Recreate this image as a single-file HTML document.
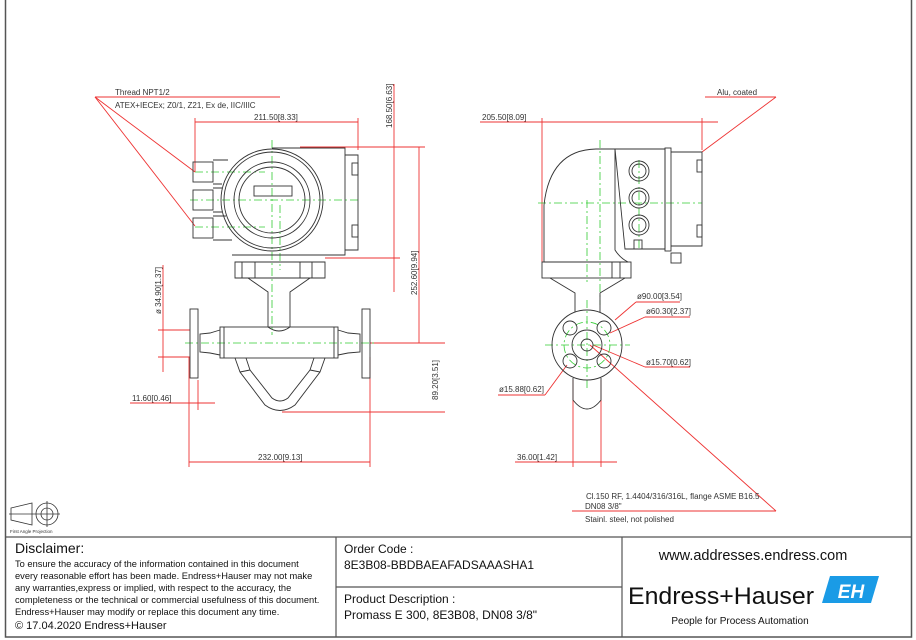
<!DOCTYPE html>
<html><head><meta charset="utf-8"><style>
html,body{margin:0;padding:0;background:#fff}
svg{display:block}
text{font-family:"Liberation Sans",sans-serif}
</style></head><body>
<svg width="916" height="640" viewBox="0 0 916 640" xmlns="http://www.w3.org/2000/svg">
<rect x="5.5" y="-2" width="906" height="639" fill="none" stroke="#555" stroke-width="1.5"/>

<!-- ===== LEFT VIEW ===== -->
<g fill="none" stroke="#e33" stroke-width="0.9">
 <line x1="95" y1="97" x2="280" y2="97"/>
 <line x1="95" y1="97" x2="195" y2="172"/>
 <line x1="95" y1="97" x2="195" y2="226"/>
 <line x1="195" y1="122" x2="358" y2="122"/>
 <line x1="195" y1="118" x2="195" y2="172"/>
 <line x1="358" y1="118" x2="358" y2="150"/>
 <line x1="394" y1="84" x2="394" y2="292"/>
 <line x1="419" y1="147" x2="419" y2="343"/>
 <line x1="300" y1="147" x2="425" y2="147"/>
 <line x1="325" y1="258" x2="400" y2="258"/>
 <line x1="370" y1="343" x2="445" y2="343"/>
 <line x1="282" y1="412" x2="445" y2="412"/>
 <line x1="163" y1="265" x2="163" y2="372"/>
 <line x1="158" y1="330" x2="190" y2="330"/>
 <line x1="158" y1="357" x2="190" y2="357"/>
 <line x1="130" y1="403" x2="215" y2="403"/>
 <line x1="189" y1="357" x2="189" y2="467"/>
 <line x1="198" y1="380" x2="198" y2="410"/>
 <line x1="370" y1="357" x2="370" y2="467"/>
 <line x1="189" y1="462" x2="370" y2="462"/>
</g>
<g fill="#333" font-size="8">
 <text x="115" y="95">Thread NPT1/2</text>
 <text x="115" y="108">ATEX+IECEx; Z0/1, Z21, Ex de, IIC/IIIC</text>
 <text x="254" y="120">211.50[8.33]</text>
 <text transform="translate(392,128) rotate(-90)">168.50[6.63]</text>
 <text transform="translate(417,295) rotate(-90)">252.60[9.94]</text>
 <text transform="translate(438,400) rotate(-90)">89.20[3.51]</text>
 <text transform="translate(161,314) rotate(-90)">ø 34.90[1.37]</text>
 <text x="132" y="401">11.60[0.46]</text>
 <text x="258" y="460">232.00[9.13]</text>
</g>
<!-- green centre lines -->
<g stroke="#3c3" stroke-width="0.8" stroke-dasharray="8,3,2,3" fill="none">
 <line x1="272" y1="140" x2="272" y2="335"/>
 <line x1="190" y1="200" x2="360" y2="200"/>
 <line x1="195" y1="172" x2="265" y2="172"/>
 <line x1="195" y1="227" x2="265" y2="227"/>
 <line x1="185" y1="343" x2="375" y2="343"/>
 <line x1="280" y1="205" x2="280" y2="270"/>
</g>
<g fill="none" stroke="#333" stroke-width="0.9">
 <path d="M272 148 L345 148 L345 255 L232 255"/>
 <path d="M345 155 L358 155 L358 250 L345 250"/>
 <rect x="352" y="163" width="6" height="12"/>
 <rect x="352" y="225" width="6" height="12"/>
 <circle cx="272" cy="200" r="51"/>
 <circle cx="272" cy="200" r="48"/>
 <circle cx="272" cy="200" r="38"/>
 <circle cx="272" cy="200" r="33"/>
 <rect x="254" y="186" width="38" height="10"/>
 <rect x="193" y="162" width="20" height="20"/>
 <rect x="193" y="190" width="20" height="20"/>
 <rect x="193" y="218" width="20" height="20"/>
 <path d="M213 160 L228 160 M213 184 L222 184 M213 188 L222 188 M213 212 L222 212 M213 216 L226 216 M213 240 L232 240"/>
 <path d="M235 262 L325 262 L325 278 L235 278 Z"/>
 <path d="M242 262 V278 M255 262 V278 M300 262 V278 M312 262 V278"/>
 <path d="M248 278 L268 292 L268 327 M310 278 L290 292 L290 327"/>
 <path d="M268 327 Q279 335 290 327"/>
 <rect x="220" y="327" width="118" height="31"/>
 <path d="M224 327 V358 M334 327 V358"/>
 <path d="M220 330 L210 333 L200 334 L200 352 L210 353 L220 355"/>
 <path d="M338 330 L348 333 L360 334 L360 352 L348 353 L338 355"/>
 <rect x="190" y="309" width="8" height="69"/>
 <rect x="362" y="309" width="8" height="69"/>
 <path d="M235 358 L240 372 L265 405 Q280 416 295 405 L320 372 L325 358"/>
 <path d="M246 358 L250 370 L272 398 Q280 404 288 398 L310 370 L314 358"/>
 <path d="M240 372 L250 370 M320 372 L310 370"/>
</g>

<!-- ===== RIGHT VIEW ===== -->
<g fill="none" stroke="#e33" stroke-width="0.9">
 <line x1="480" y1="122" x2="718" y2="122"/>
 <line x1="542" y1="118" x2="542" y2="262"/>
 <line x1="702" y1="118" x2="702" y2="150"/>
 <line x1="705" y1="97" x2="776" y2="97"/>
 <line x1="776" y1="97" x2="702" y2="152"/>
 <line x1="636" y1="302" x2="680" y2="302"/>
 <line x1="636" y1="302" x2="615" y2="320"/>
 <line x1="645" y1="317" x2="690" y2="317"/>
 <line x1="645" y1="317" x2="610" y2="333"/>
 <line x1="645" y1="367" x2="690" y2="367"/>
 <line x1="645" y1="367" x2="593" y2="345"/>
 <line x1="498" y1="395" x2="545" y2="395"/>
 <line x1="545" y1="395" x2="567" y2="365"/>
 <line x1="590" y1="345" x2="776" y2="511"/>
 <line x1="572" y1="511" x2="776" y2="511"/>
 <line x1="573" y1="380" x2="573" y2="467"/>
 <line x1="601" y1="380" x2="601" y2="467"/>
 <line x1="515" y1="462" x2="617" y2="462"/>
</g>
<g fill="#333" font-size="8">
 <text x="482" y="120">205.50[8.09]</text>
 <text x="717" y="95">Alu, coated</text>
 <text x="637" y="299">ø90.00[3.54]</text>
 <text x="646" y="314">ø60.30[2.37]</text>
 <text x="646" y="365">ø15.70[0.62]</text>
 <text x="499" y="392">ø15.88[0.62]</text>
 <text x="517" y="460">36.00[1.42]</text>
 <text x="586" y="499">Cl.150 RF, 1.4404/316/316L, flange ASME B16.5</text>
 <text x="585" y="509">DN08 3/8"</text>
 <text x="585" y="522">Stainl. steel, not polished</text>
</g>
<g stroke="#3c3" stroke-width="0.8" stroke-dasharray="8,3,2,3" fill="none">
 <line x1="600" y1="140" x2="600" y2="305"/>
 <line x1="538" y1="203" x2="702" y2="203"/>
 <line x1="587" y1="300" x2="587" y2="390"/>
 <line x1="545" y1="345" x2="630" y2="345"/>
 <line x1="587" y1="200" x2="587" y2="282"/>
 <line x1="639" y1="160" x2="639" y2="250"/>
 <circle cx="587" cy="345" r="23"/>
</g>
<g fill="none" stroke="#333" stroke-width="0.9">
 <path d="M615 149 L596 149 Q550 150 544 205 L544 262 L628 262 Q620 258 615 250 Z"/>
 <path d="M615 149 L625 249 L665 249 L665 149 Z"/>
 <rect x="665" y="148" width="6" height="103"/>
 <path d="M671 152 L702 152 L702 246 L671 246"/>
 <rect x="697" y="160" width="5" height="12"/>
 <rect x="697" y="225" width="5" height="12"/>
 <rect x="671" y="253" width="10" height="10"/>
 <circle cx="639" cy="171" r="10"/><circle cx="639" cy="171" r="7"/>
 <circle cx="639" cy="198" r="10"/><circle cx="639" cy="198" r="7"/>
 <circle cx="639" cy="225" r="10"/><circle cx="639" cy="225" r="7"/>
 <rect x="634" y="240" width="8" height="9"/>
 <rect x="542" y="262" width="89" height="16"/>
 <path d="M612 262 V278 M620 262 V278"/>
 <path d="M550 278 L575 293 L575 312 M625 278 L600 293 L600 312"/>
 <circle cx="587" cy="345" r="35"/>
 <circle cx="587" cy="345" r="15"/>
 <circle cx="587" cy="345" r="6"/>
 <circle cx="570" cy="328" r="7"/><circle cx="604" cy="328" r="7"/>
 <circle cx="570" cy="361" r="7"/><circle cx="604" cy="361" r="7"/>
 <path d="M573 378 L573 400 Q587 418 601 400 L601 378"/>
</g>

<!-- first angle projection -->
<g fill="none" stroke="#333" stroke-width="0.8">
 <path d="M11 508 L32 503 L32 525 L11 520 Z"/>
 <line x1="9" y1="514" x2="34" y2="514"/>
 <circle cx="47" cy="514" r="11"/><circle cx="47" cy="514" r="6"/>
 <line x1="34" y1="514" x2="60" y2="514"/><line x1="47" y1="501" x2="47" y2="527"/>
</g>
<text x="10" y="533" font-size="4.5" fill="#333">First Angle Projection</text>

<!-- title block -->
<g fill="none" stroke="#555" stroke-width="1.2">
 <line x1="5" y1="537" x2="912" y2="537"/>
 <line x1="336" y1="537" x2="336" y2="637"/>
 <line x1="622" y1="537" x2="622" y2="637"/>
 <line x1="336" y1="587" x2="622" y2="587"/>
</g>
<g fill="#111">
 <text x="15" y="553" font-size="14">Disclaimer:</text>
 <g font-size="9.3">
 <text x="15" y="567">To ensure the accuracy of the information contained in this  document</text>
 <text x="15" y="579">every reasonable effort has been made. Endress+Hauser may not make</text>
 <text x="15" y="591">any warranties,express or implied, with respect to the accuracy, the</text>
 <text x="15" y="603">completeness or the technical or commercial usefulness of this document.</text>
 <text x="15" y="615">Endress+Hauser may modify or replace this document any time.</text>
 </g>
 <text x="15" y="629" font-size="11">© 17.04.2020 Endress+Hauser</text>
 <text x="344" y="553" font-size="12">Order Code :</text>
 <text x="344" y="569" font-size="12">8E3B08-BBDBAEAFADSAAASHA1</text>
 <text x="344" y="603" font-size="12">Product Description :</text>
 <text x="344" y="619" font-size="12">Promass E 300, 8E3B08, DN08 3/8"</text>
 <text x="753" y="560" font-size="14.5" text-anchor="middle">www.addresses.endress.com</text>
 <text x="628" y="604" font-size="24" font-family="DejaVu Sans Condensed, Liberation Sans, sans-serif" textLength="186" lengthAdjust="spacingAndGlyphs">Endress+Hauser</text>
 <text x="740" y="624" font-size="10" text-anchor="middle">People for Process Automation</text>
</g>
<path d="M830 576 L879 576 L871 603 L822 603 Z" fill="#1a9be6"/>
<text x="851" y="598" font-size="19" font-weight="bold" fill="#fff" text-anchor="middle" font-style="italic">EH</text>
</svg>
</body></html>
